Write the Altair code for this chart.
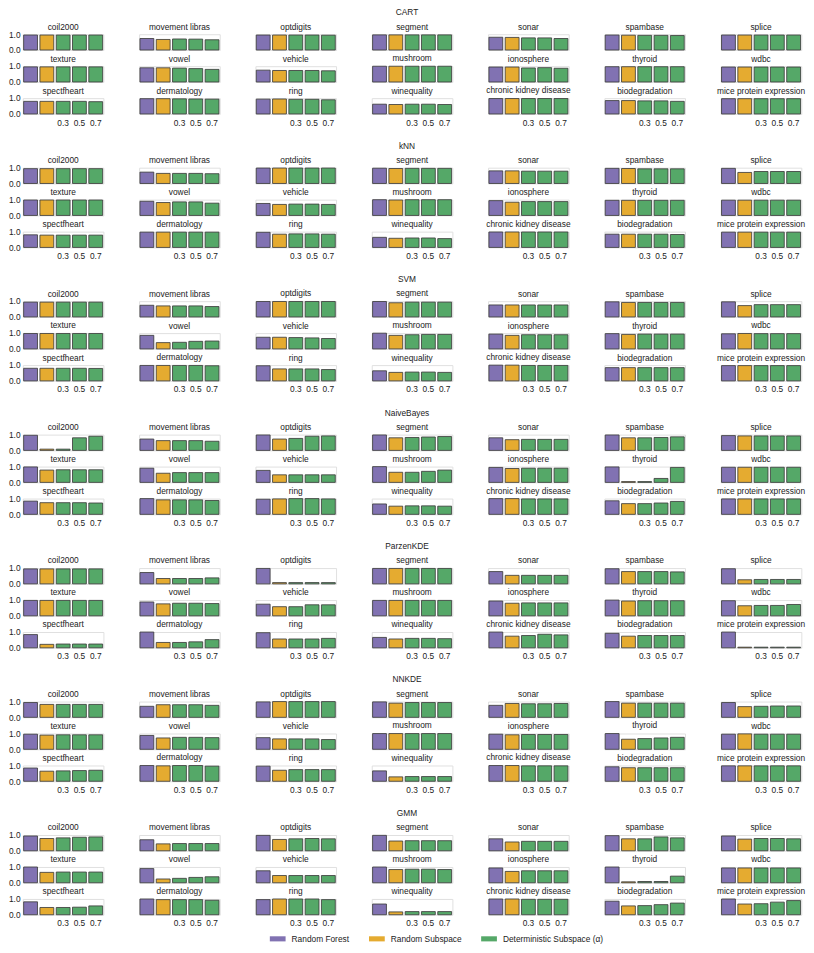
import altair as alt
import pandas as pd

classifiers = ["CART", "kNN", "SVM", "NaiveBayes", "ParzenKDE", "NNKDE", "GMM"]
datasets = [
    "coil2000", "movement libras", "optdigits", "segment", "sonar", "spambase", "splice",
    "texture", "vowel", "vehicle", "mushroom", "ionosphere", "thyroid", "wdbc",
    "spectfheart", "dermatology", "ring", "winequality", "chronic kidney disease",
    "biodegradation", "mice protein expression",
]
positions = ["RF", "RS", "0.3", "0.5", "0.7"]
groups = ["Random Forest", "Random Subspace", "Deterministic Subspace (α)"]
position_group = ["Random Forest", "Random Subspace",
                  "Deterministic Subspace (α)", "Deterministic Subspace (α)",
                  "Deterministic Subspace (α)"]
colors = ["#8172b2", "#e5ab30", "#55a868"]

# accuracy per dataset: [RF, RS, DS a=0.3, DS a=0.5, DS a=0.7]
CART = [
    [0.95, 0.95, 0.95, 0.95, 0.95], [0.73, 0.67, 0.70, 0.69, 0.65],
    [0.95, 0.95, 0.95, 0.95, 0.94], [0.96, 0.96, 0.96, 0.96, 0.96],
    [0.81, 0.80, 0.77, 0.77, 0.73], [0.95, 0.94, 0.93, 0.93, 0.92],
    [0.95, 0.95, 0.95, 0.95, 0.95],
    [0.96, 0.96, 0.96, 0.96, 0.96], [0.90, 0.90, 0.88, 0.85, 0.80],
    [0.75, 0.73, 0.73, 0.73, 0.71], [1.00, 1.00, 1.00, 1.00, 1.00],
    [0.95, 0.95, 0.89, 0.91, 0.87], [0.97, 0.97, 0.97, 0.97, 0.97],
    [0.95, 0.95, 0.95, 0.95, 0.95],
    [0.80, 0.80, 0.80, 0.80, 0.78], [0.97, 0.97, 0.96, 0.95, 0.94],
    [0.94, 0.95, 0.93, 0.93, 0.90], [0.62, 0.60, 0.62, 0.62, 0.60],
    [0.98, 0.98, 0.98, 0.98, 0.98], [0.85, 0.85, 0.83, 0.83, 0.80],
    [0.97, 0.97, 0.97, 0.97, 0.97],
]
KNN = [
    [0.94, 0.94, 0.94, 0.94, 0.94], [0.72, 0.64, 0.64, 0.64, 0.62],
    [0.98, 0.98, 0.98, 0.98, 0.98], [0.97, 0.95, 0.96, 0.96, 0.96],
    [0.80, 0.80, 0.78, 0.78, 0.78], [0.96, 0.95, 0.93, 0.93, 0.93],
    [0.96, 0.70, 0.76, 0.76, 0.76],
    [0.98, 0.98, 0.98, 0.98, 0.98], [0.90, 0.82, 0.86, 0.86, 0.78],
    [0.76, 0.70, 0.72, 0.72, 0.70], [1.00, 0.98, 1.00, 1.00, 1.00],
    [0.94, 0.84, 0.88, 0.88, 0.88], [0.96, 0.96, 0.96, 0.96, 0.96],
    [0.97, 0.97, 0.97, 0.97, 0.97],
    [0.80, 0.78, 0.78, 0.78, 0.78], [0.97, 0.97, 0.97, 0.97, 0.97],
    [0.96, 0.84, 0.86, 0.86, 0.84], [0.64, 0.58, 0.60, 0.60, 0.56],
    [0.98, 0.98, 0.98, 0.98, 0.98], [0.84, 0.84, 0.84, 0.84, 0.82],
    [0.97, 0.97, 0.97, 0.97, 0.97],
]
SVM = [
    [0.94, 0.94, 0.94, 0.94, 0.94], [0.74, 0.70, 0.70, 0.70, 0.66],
    [0.98, 0.98, 0.98, 0.98, 0.98], [0.98, 0.90, 0.94, 0.94, 0.94],
    [0.76, 0.76, 0.76, 0.76, 0.76], [0.96, 0.92, 0.92, 0.92, 0.92],
    [0.96, 0.72, 0.78, 0.78, 0.78],
    [0.98, 0.98, 0.98, 0.98, 0.98], [0.86, 0.40, 0.42, 0.48, 0.50],
    [0.74, 0.74, 0.72, 0.70, 0.66], [1.00, 0.86, 0.90, 0.92, 0.92],
    [0.94, 0.86, 0.90, 0.90, 0.90], [0.97, 0.92, 0.94, 0.94, 0.94],
    [0.96, 0.98, 0.97, 0.97, 0.97],
    [0.80, 0.80, 0.80, 0.80, 0.79], [0.98, 0.98, 0.98, 0.98, 0.96],
    [0.96, 0.76, 0.76, 0.76, 0.72], [0.64, 0.54, 0.56, 0.56, 0.54],
    [1.00, 1.00, 0.98, 0.98, 0.98], [0.84, 0.84, 0.84, 0.84, 0.84],
    [0.97, 0.97, 0.97, 0.97, 0.97],
]
NAIVE_BAYES = [
    [0.96, 0.08, 0.08, 0.80, 0.90], [0.72, 0.62, 0.62, 0.62, 0.58],
    [0.98, 0.72, 0.76, 0.90, 0.92], [0.98, 0.80, 0.82, 0.85, 0.88],
    [0.80, 0.68, 0.70, 0.70, 0.70], [0.98, 0.80, 0.80, 0.82, 0.86],
    [0.94, 0.92, 0.92, 0.92, 0.92],
    [0.98, 0.78, 0.80, 0.80, 0.80], [0.90, 0.58, 0.62, 0.62, 0.62],
    [0.76, 0.48, 0.48, 0.48, 0.48], [1.00, 0.64, 0.64, 0.70, 0.78],
    [0.95, 0.88, 0.90, 0.90, 0.90], [0.98, 0.05, 0.05, 0.25, 0.95],
    [0.96, 0.96, 0.96, 0.96, 0.96],
    [0.84, 0.74, 0.74, 0.74, 0.72], [1.00, 0.92, 0.92, 0.92, 0.88],
    [0.96, 0.98, 1.00, 1.00, 0.98], [0.66, 0.52, 0.54, 0.54, 0.52],
    [1.00, 1.00, 0.98, 0.98, 0.98], [0.86, 0.68, 0.68, 0.72, 0.82],
    [0.98, 0.98, 0.98, 0.98, 0.98],
]
PARZEN_KDE = [
    [0.95, 0.95, 0.95, 0.95, 0.95], [0.72, 0.34, 0.34, 0.34, 0.38],
    [0.98, 0.08, 0.08, 0.08, 0.08], [0.98, 0.98, 0.98, 0.98, 0.98],
    [0.78, 0.54, 0.54, 0.54, 0.54], [0.96, 0.78, 0.78, 0.78, 0.76],
    [0.96, 0.26, 0.28, 0.28, 0.28],
    [0.98, 0.98, 0.98, 0.98, 0.98], [0.88, 0.76, 0.80, 0.80, 0.78],
    [0.74, 0.58, 0.58, 0.70, 0.70], [0.98, 0.98, 0.98, 0.98, 0.98],
    [0.94, 0.80, 0.82, 0.82, 0.82], [1.00, 0.94, 0.96, 0.96, 0.96],
    [0.96, 0.64, 0.66, 0.66, 0.72],
    [0.84, 0.22, 0.24, 0.24, 0.24], [1.00, 0.34, 0.34, 0.38, 0.52],
    [0.96, 0.56, 0.56, 0.56, 0.60], [0.66, 0.56, 0.60, 0.60, 0.58],
    [1.00, 0.74, 0.78, 0.86, 0.82], [0.92, 0.74, 0.78, 0.78, 0.78],
    [1.00, 0.04, 0.04, 0.04, 0.04],
]
NNKDE = [
    [0.94, 0.82, 0.82, 0.82, 0.82], [0.70, 0.80, 0.80, 0.80, 0.76],
    [0.98, 1.00, 1.00, 1.00, 1.00], [0.98, 0.90, 0.94, 0.94, 0.94],
    [0.76, 0.88, 0.86, 0.86, 0.88], [1.00, 0.90, 0.90, 0.90, 0.90],
    [0.94, 0.68, 0.70, 0.72, 0.72],
    [0.96, 0.90, 0.92, 0.92, 0.92], [0.88, 0.72, 0.76, 0.76, 0.74],
    [0.74, 0.66, 0.66, 0.66, 0.62], [1.00, 1.00, 1.00, 1.00, 1.00],
    [0.96, 0.92, 0.94, 0.94, 0.94], [1.00, 0.64, 0.68, 0.72, 0.76],
    [0.96, 0.98, 0.96, 0.96, 0.96],
    [0.84, 0.64, 0.66, 0.68, 0.70], [1.00, 0.98, 1.00, 1.00, 0.96],
    [0.96, 0.70, 0.74, 0.74, 0.74], [0.66, 0.28, 0.30, 0.30, 0.30],
    [1.00, 1.00, 0.98, 0.98, 0.98], [0.92, 0.86, 0.86, 0.86, 0.86],
    [0.98, 0.98, 0.98, 0.98, 0.98],
]
GMM = [
    [0.94, 0.78, 0.82, 0.86, 0.88], [0.70, 0.44, 0.46, 0.46, 0.46],
    [0.98, 0.72, 0.76, 0.78, 0.76], [0.98, 0.62, 0.64, 0.64, 0.64],
    [0.76, 0.56, 0.60, 0.60, 0.60], [0.96, 0.76, 0.76, 0.88, 0.82],
    [0.94, 0.74, 0.78, 0.78, 0.76],
    [1.00, 0.66, 0.68, 0.68, 0.68], [0.90, 0.24, 0.28, 0.34, 0.38],
    [0.76, 0.46, 0.46, 0.46, 0.46], [1.00, 0.84, 0.86, 0.86, 0.84],
    [0.94, 0.72, 0.76, 0.76, 0.76], [1.00, 0.06, 0.08, 0.08, 0.42],
    [0.94, 0.94, 0.94, 0.94, 0.94],
    [0.82, 0.46, 0.46, 0.48, 0.56], [1.00, 0.96, 0.96, 0.96, 0.92],
    [0.96, 1.00, 1.00, 1.00, 0.96], [0.68, 0.18, 0.20, 0.20, 0.20],
    [1.00, 1.00, 0.98, 0.98, 0.98], [0.86, 0.56, 0.58, 0.64, 0.74],
    [1.00, 0.68, 0.70, 0.80, 0.90],
]
results = [CART, KNN, SVM, NAIVE_BAYES, PARZEN_KDE, NNKDE, GMM]

FONT = "Liberation Sans"
LEGEND_SYMBOL = "M-1.7,-0.55H1.7V0.55H-1.7Z"


def section(name, table):
    rows = []
    for ds, vals in zip(datasets, table):
        for pos, grp, v in zip(positions, position_group, vals):
            rows.append({"dataset": ds, "pos": pos, "group": grp, "value": v})
    df = pd.DataFrame(rows)
    base = alt.Chart(df).mark_bar(stroke="#3c3c3c", strokeWidth=0.9).encode(
        x=alt.X(
            "pos:N", sort=positions, title=None,
            scale=alt.Scale(paddingInner=0.15, paddingOuter=0.05),
            axis=alt.Axis(
                labelExpr="datum.value == 'RF' || datum.value == 'RS' ? '' : datum.value",
                labelAngle=0, ticks=False, domain=False, labelPadding=4,
                labelFontSize=9, labelColor="#222222",
            ),
        ),
        y=alt.Y(
            "value:Q", title=None,
            scale=alt.Scale(domain=[0, 1], nice=False),
            axis=alt.Axis(
                values=[0, 1], format=".1f", ticks=False, domain=False,
                grid=False, labelPadding=2, labelFontSize=9, labelFlush=False,
                labelColor="#222222",
            ),
        ),
        color=alt.Color(
            "group:N",
            scale=alt.Scale(domain=groups, range=colors),
            legend=alt.Legend(
                title=None, orient="none", direction="horizontal",
                legendX=270, legendY=971,
                symbolType=LEGEND_SYMBOL, symbolSize=100, symbolStrokeWidth=0,
                labelFontSize=9, labelOffset=10, columnPadding=20,
                labelColor="#222222",
            ),
        ),
    ).properties(width=87, height=17)
    return base.facet(
        facet=alt.Facet(
            "dataset:N", sort=datasets, title=None,
            header=alt.Header(labelFontSize=9, labelPadding=3, labelFont=FONT,
                              labelColor="#222222"),
        ),
        columns=7,
        spacing={"row": 3.5, "column": 28.5},
        title=alt.TitleParams(name, fontSize=9, fontWeight="normal", anchor="middle",
                              offset=6, font=FONT, color="#222222"),
    )


chart = alt.vconcat(
    *[section(n, t) for n, t in zip(classifiers, results)], spacing=16
).properties(
    padding={"left": 0, "top": -38, "right": 0, "bottom": 0},
    background="white",
).configure_view(
    fill="#eaeaf2", stroke=None,
).configure(
    font=FONT,
)

chart.save("out.html", embed_options={"renderer": "svg", "actions": False})
